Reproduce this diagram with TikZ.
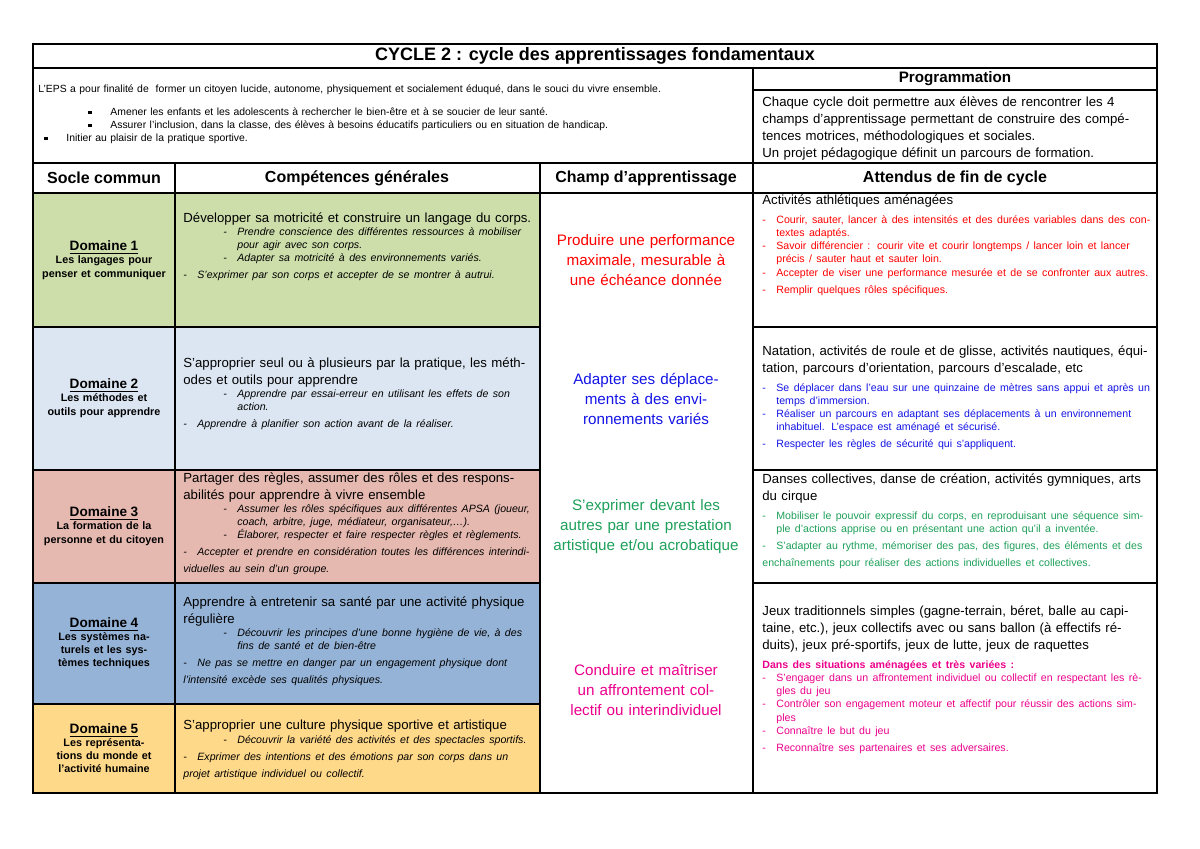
\documentclass[tikz,border=0pt]{standalone}
\usepackage{fontspec}
\setmainfont{Liberation Sans}
\definecolor{cA}{RGB}{205,222,170}
\definecolor{cB}{RGB}{220,230,242}
\definecolor{cC}{RGB}{230,185,176}
\definecolor{cD}{RGB}{149,179,215}
\definecolor{cE}{RGB}{255,217,138}
\definecolor{tG}{RGB}{30,160,90}
\definecolor{tB}{RGB}{20,20,230}
\newcommand\dli[1]{\par\hangindent=7pt\hangafter=1\noindent\makebox[7pt][l]{-}#1}
\newcommand\bli[1]{\par\hangindent=14pt\hangafter=1\noindent\hspace*{3pt}\makebox[11pt][l]{\rule[0.5pt]{1.6pt}{1.6pt}}#1}
\tikzset{
 cell/.style={draw,line width=0.9pt},
 tx/.style={anchor=north west,inner sep=0pt,align=left},
 sm/.style={font=\fontsize{5.2}{6.5}\selectfont},
 md/.style={font=\fontsize{6.6}{8.5}\selectfont},
 hd/.style={font=\fontsize{8}{10}\selectfont\bfseries},
 ch/.style={font=\fontsize{7.6}{10}\selectfont,align=center,text width=95pt},
}
\begin{document}
\begin{tikzpicture}[x=0.5pt,y=-0.5pt]
\useasboundingbox[fill=white] (0,0) rectangle (1200,849);
% fills
\fill[cA] (33,193) rectangle (540,327);
\fill[cB] (33,327) rectangle (540,470);
\fill[cC] (33,470) rectangle (540,583);
\fill[cD] (33,583) rectangle (540,704);
\fill[cE] (33,704) rectangle (540,793);
% grid
\draw[cell] (33,44) rectangle (1157,793);
\draw[cell] (33,68) -- (1157,68);
\draw[cell] (753,68) -- (753,793);
\draw[cell] (753,90) -- (1157,90);
\draw[cell] (33,163) -- (1157,163);
\draw[cell] (33,193) -- (1157,193);
\draw[cell] (175,163) -- (175,793);
\draw[cell] (540,163) -- (540,793);
\foreach \y in {327,470,583,704} \draw[cell] (33,\y) -- (540,\y);
\foreach \y in {327,470,583} \draw[cell] (753,\y) -- (1157,\y);
% title
\node[font=\fontsize{9}{11}\selectfont\bfseries] (title) at (595,56) {CYCLE 2 : cycle des apprentissages fondamentaux};
\node[tx,sm,text width=355pt] (intro) at (38,84) {L'EPS a pour finalité de \ former un citoyen lucide, autonome, physiquement et socialement éduqué, dans le souci du vivre ensemble.\par\vspace{5pt}\leftskip=22pt
\bli{Amener les enfants et les adolescents à rechercher le bien-être et à se soucier de leur santé.}
\bli{Assurer l'inclusion, dans la classe, des élèves à besoins éducatifs particuliers ou en situation de handicap.}
\bli{Initier au plaisir de la pratique sportive.}};
\node[font=\fontsize{7.6}{9}\selectfont\bfseries] (prog) at (955,79) {Programmation};
\node[tx,md,text width=195pt] (progt) at (762,96) {Chaque cycle doit permettre aux élèves de rencontrer les 4 champs d'apprentissage permettant de construire des compétences motrices, méthodologiques et sociales.\\Un projet pédagogique définit un parcours de formation.};
% headers
\node[hd] (h1) at (104,178) {Socle commun};
\node[hd] (h2) at (357,178) {Compétences générales};
\node[hd] (h3) at (646,178) {Champ d'apprentissage};
\node[hd] (h4) at (955,178) {Attendus de fin de cycle};
% domaines
\tikzset{dom/.style={align=center,font=\fontsize{5.4}{6.6}\selectfont\bfseries,text width=64pt}}
\node[dom] (d1) at (104,260) {{\fontsize{6.8}{8}\selectfont\underline{Domaine 1}}\\Les langages pour penser et communiquer};
\node[dom] (d2) at (104,398) {{\fontsize{6.8}{8}\selectfont\underline{Domaine 2}}\\Les méthodes et outils pour apprendre};
\node[dom] (d3) at (104,526) {{\fontsize{6.8}{8}\selectfont\underline{Domaine 3}}\\La formation de la personne et du citoyen};
\node[dom] (d4) at (104,643) {{\fontsize{6.8}{8}\selectfont\underline{Domaine 4}}\\Les systèmes naturels et les systèmes techniques};
\node[dom] (d5) at (104,748) {{\fontsize{6.8}{8}\selectfont\underline{Domaine 5}}\\Les représentations du monde et l'activité humaine};
% competences
\tikzset{cp/.style={tx,md,text width=175pt}}
\newcommand\its{\par\fontsize{5.3}{6.6}\selectfont\itshape\leftskip=20pt}
\node[cp] (c1) at (183,212) {Développer sa motricité et construire un langage du corps.\its
\dli{Prendre conscience des différentes ressources à mobiliser pour agir avec son corps.}
\dli{Adapter sa motricité à des environnements variés.}
\dli{S'exprimer par son corps et accepter de se montrer à autrui.}};
\node[cp] (c2) at (183,357) {S'approprier seul ou à plusieurs par la pratique, les méthodes et outils pour apprendre\its
\dli{Apprendre par essai-erreur en utilisant les effets de son action.}
\dli{Apprendre à planifier son action avant de la réaliser.}};
\node[cp] (c3) at (183,472) {Partager des règles, assumer des rôles et des responsabilités pour apprendre à vivre ensemble\its
\dli{Assumer les rôles spécifiques aux différentes APSA (joueur, coach, arbitre, juge, médiateur, organisateur,…).}
\dli{Élaborer, respecter et faire respecter règles et règlements.}
\dli{Accepter et prendre en considération toutes les différences interindividuelles au sein d'un groupe.}};
\node[cp] (c4) at (183,596) {Apprendre à entretenir sa santé par une activité physique régulière\its
\dli{Découvrir les principes d'une bonne hygiène de vie, à des fins de santé et de bien-être}
\dli{Ne pas se mettre en danger par un engagement physique dont l'intensité excède ses qualités physiques.}};
\node[cp] (c5) at (183,720) {S'approprier une culture physique sportive et artistique\its
\dli{Découvrir la variété des activités et des spectacles sportifs.}
\dli{Exprimer des intentions et des émotions par son corps dans un projet artistique individuel ou collectif.}};
% champs
\node[ch,text=red] (k1) at (646,260) {Produire une performance maximale, mesurable à une échéance donnée};
\node[ch,text=tB] (k2) at (646,399) {Adapter ses déplacements à des environnements variés};
\node[ch,text=tG] (k3) at (646,527) {S'exprimer devant les autres par une prestation artistique et/ou acrobatique};
\node[ch,text=magenta] (k4) at (646,690) {Conduire et maîtriser un affrontement collectif ou interindividuel};
% attendus
\tikzset{attx/.style={tx,md,text width=195pt}}
\newcommand\ats{\par\vspace{3pt}\fontsize{5.3}{6.6}\selectfont}
\node[attx] (a1) at (762,194) {Activités athlétiques aménagées\ats\color{red}
\dli{Courir, sauter, lancer à des intensités et des durées variables dans des contextes adaptés.}
\dli{Savoir différencier : courir vite et courir longtemps / lancer loin et lancer précis / sauter haut et sauter loin.}
\dli{Accepter de viser une performance mesurée et de se confronter aux autres.}
\dli{Remplir quelques rôles spécifiques.}};
\node[attx] (a2) at (762,345) {Natation, activités de roule et de glisse, activités nautiques, équitation, parcours d'orientation, parcours d'escalade, etc\ats\color{tB}
\dli{Se déplacer dans l'eau sur une quinzaine de mètres sans appui et après un temps d'immersion.}
\dli{Réaliser un parcours en adaptant ses déplacements à un environnement inhabituel. L'espace est aménagé et sécurisé.}
\dli{Respecter les règles de sécurité qui s'appliquent.}};
\node[attx] (a3) at (762,473) {Danses collectives, danse de création, activités gymniques, arts du cirque\ats\color{tG}
\dli{Mobiliser le pouvoir expressif du corps, en reproduisant une séquence simple d'actions apprise ou en présentant une action qu'il a inventée.}
\dli{S'adapter au rythme, mémoriser des pas, des figures, des éléments et des enchaînements pour réaliser des actions individuelles et collectives.}};
\node[attx] (a4) at (762,605) {Jeux traditionnels simples (gagne-terrain, béret, balle au capitaine, etc.), jeux collectifs avec ou sans ballon (à effectifs réduits), jeux pré-sportifs, jeux de lutte, jeux de raquettes\ats\color{magenta}
{\bfseries Dans des situations aménagées et très variées :}
\dli{S'engager dans un affrontement individuel ou collectif en respectant les règles du jeu}
\dli{Contrôler son engagement moteur et affectif pour réussir des actions simples}
\dli{Connaître le but du jeu}
\dli{Reconnaître ses partenaires et ses adversaires.}};
\end{tikzpicture}
\end{document}
